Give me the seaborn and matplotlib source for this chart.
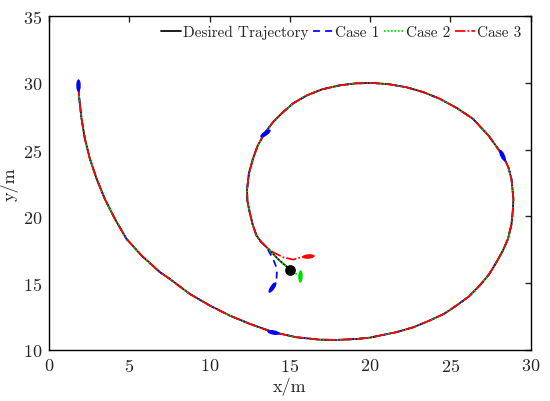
import matplotlib
matplotlib.use("Agg")
import matplotlib.pyplot as plt
import seaborn as sns
import pandas as pd
from matplotlib.path import Path
from matplotlib.markers import MarkerStyle
from matplotlib.transforms import Affine2D

# shared spiral part
spiral_x = [1.83, 1.89, 2.03, 2.24, 2.55, 2.97, 3.48, 4.11, 4.83, 5.77, 6.91,
            7.53, 8.77, 10.02, 11.26, 12.51, 13.96, 15.41, 16.86, 17.9, 19.15,
            19.98, 21.63, 22.7, 23.7, 24.6, 25.37, 26.15, 26.82, 27.4, 27.86,
            28.25, 28.58, 28.8, 28.89, 28.92, 28.8, 28.6, 28.23, 27.4, 26.4,
            25.4, 24.33, 23.3, 22.26, 21.2, 20.18, 19.1, 18.1, 17.0, 16.04,
            15.2, 14.58, 13.95, 13.44, 13.0, 12.7, 12.45, 12.34, 12.35, 12.5,
            12.68, 12.92, 13.2, 13.55]
spiral_y = [29.78, 28.79, 27.29, 25.79, 24.3, 22.8, 21.3, 19.8, 18.31, 17.06, 15.82,
            15.31, 14.19, 13.32, 12.57, 11.95, 11.33, 10.95, 10.77, 10.75, 10.82,
            10.92, 11.33, 11.7, 12.2, 12.7, 13.32, 14.0, 14.82, 15.65, 16.56,
            17.4, 18.3, 19.4, 20.55, 21.3, 22.8, 23.7, 24.6, 26.0, 27.3,
            28.1, 28.8, 29.3, 29.66, 29.88, 29.98, 29.95, 29.8, 29.5, 29.04,
            28.45, 27.8, 27.05, 26.24, 25.3, 24.3, 23.2, 22.05, 21.2, 20.3,
            19.4, 18.56, 18.1, 17.69]

# end sections of each run
desired_tail_x = [14.37, 15.04]
desired_tail_y = [16.68, 16.0]
case1_tail_x = [13.96, 14.2, 14.17, 13.9]
case1_tail_y = [16.8, 16.06, 15.3, 14.74]
case2_tail_x = [14.37, 15.0, 15.62]
case2_tail_y = [16.68, 16.0, 15.52]
case3_tail_x = [13.96, 14.58, 15.2, 15.72, 16.14]
case3_tail_y = [17.31, 16.94, 16.76, 16.94, 17.06]

# vessel glyphs: x, y, heading (deg), colour
ship_x = [1.83, 13.96, 28.23, 13.44, 13.9, 15.62, 16.14]
ship_y = [29.84, 11.33, 24.6, 26.24, 14.74, 15.52, 17.06]
ship_angle = [90, -10, 115, 35, 55, 88, 5]
ship_color = ["#0000ff", "#0000ff", "#0000ff", "#0000ff", "#0000ff", "#00dd00", "#ff0000"]

end_point_x = [15.04]
end_point_y = [16.0]

sns.set_style("white")
plt.rcParams["font.family"] = ["cmr10", "DejaVu Serif"]
plt.rcParams["axes.formatter.use_mathtext"] = True
plt.rcParams["mathtext.fontset"] = "cm"

fig = plt.figure(figsize=(5.5, 4.02), dpi=100)
ax = fig.add_axes([0.089, 0.127, 0.876, 0.831])


def path_df(tx, ty):
    return pd.DataFrame({"x": spiral_x + tx, "y": spiral_y + ty})


runs = [
    ("Desired Trajectory", path_df(desired_tail_x, desired_tail_y), "black", "-"),
    ("Case 1", path_df(case1_tail_x, case1_tail_y), "#0000ff", (0, (4, 3))),
    ("Case 2", path_df(case2_tail_x, case2_tail_y), "#00dd00", (0, (1, 1))),
    ("Case 3", path_df(case3_tail_x, case3_tail_y), "#ff0000", (0, (6, 1.2, 1, 1.2))),
]
handles = []
for name, df, col, ls in runs:
    sns.lineplot(data=df, x="x", y="y", sort=False, estimator=None, color=col,
                 linestyle=ls, linewidth=1.25, ax=ax, label=name)
    handles.append(ax.lines[-1])

ellipse = Path.unit_circle().transformed(Affine2D().scale(0.36, 1.0))
for sx, sy, ang, col in zip(ship_x, ship_y, ship_angle, ship_color):
    m = MarkerStyle(ellipse, transform=Affine2D().rotate_deg(ang - 90))
    ax.scatter([sx], [sy], marker=m, s=80, color=col, linewidths=0, zorder=5)

ax.scatter(end_point_x, end_point_y, s=45, color="black", zorder=6)

ax.set_xlim(0, 30)
ax.set_ylim(10, 35)
ax.set_xticks(range(0, 31, 5))
ax.set_yticks(range(10, 36, 5))
ax.set_xlabel("x/m", fontsize=13, labelpad=2)
ax.set_ylabel("y/m", fontsize=13, labelpad=3)
ax.tick_params(direction="in", length=4, width=1, top=True, right=True,
               labelsize=13, pad=5)
for sp in ax.spines.values():
    sp.set_linewidth(1.0)
    sp.set_color("black")

ax.legend(handles=handles, labels=[r[0] for r in runs], loc="upper right",
          bbox_to_anchor=(1.0, 1.0), ncol=4, frameon=False, fontsize=11,
          handlelength=1.3, handletextpad=0.15, columnspacing=0.3,
          borderaxespad=0.2)

fig.savefig("out.png", dpi=100)
